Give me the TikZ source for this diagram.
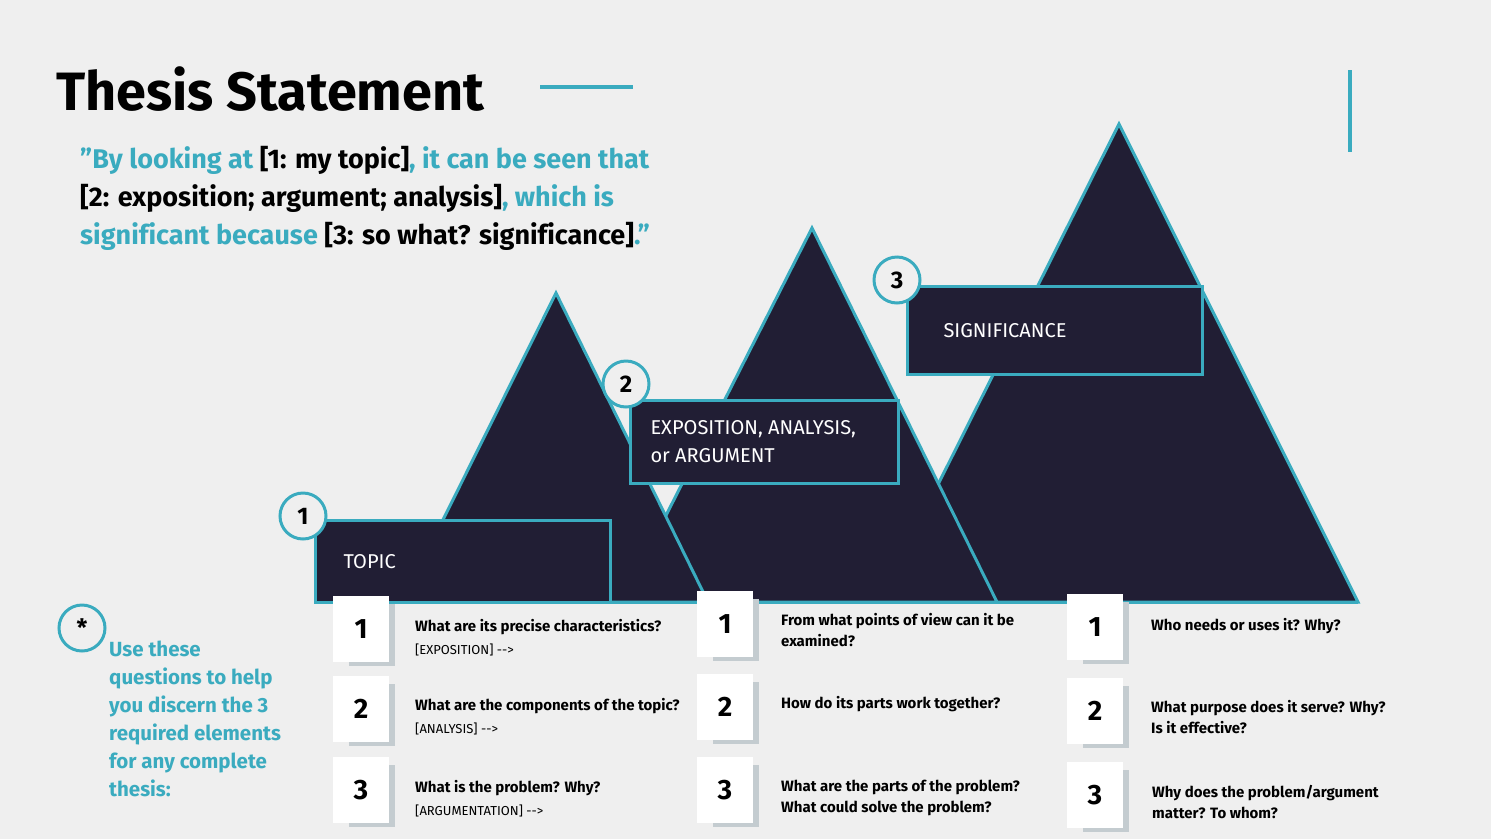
\documentclass[tikz,border=0pt]{standalone}
\usepackage{fontspec}
\setmainfont{Fira Sans}[Ligatures=NoCommon]
\definecolor{bg}{HTML}{EFEFEF}
\definecolor{navy}{HTML}{211E34}
\definecolor{teal}{HTML}{3AABBF}
\definecolor{shad}{HTML}{C4CCD0}
\begin{document}
\begin{tikzpicture}[x=1pt,y=-1pt,
  tri/.style={fill=navy,draw=teal,line width=3pt,line join=miter},
  lbox/.style={fill=navy,draw=teal,line width=3pt},
  circ/.style={circle,fill=bg,draw=teal,line width=3pt,minimum size=46pt,inner sep=0,font=\bfseries\fontsize{24}{24}\selectfont},
  numbox/.style={fill=white,minimum width=56pt,minimum height=66pt,inner sep=0,font=\bfseries\fontsize{28}{28}\selectfont},
  q/.style={anchor=north west,align=left,inner sep=0,font=\bfseries\fontsize{15}{21}\selectfont},
  tag/.style={anchor=north west,inner sep=0,font=\fontsize{13}{14}\selectfont}]
\fill[bg] (0,0) rectangle (1491,839);
\useasboundingbox (0,0) rectangle (1491,839);
% title
\node[anchor=base west,inner sep=0,font=\bfseries\fontsize{54}{54}\selectfont] (title) at (56,110) {Thesis Statement};
\draw[teal,line width=4pt] (540,87) coordinate (tl1) -- (633,87) coordinate (tl2);
\draw[teal,line width=4pt] (1350,70) coordinate (v1) -- (1350,152) coordinate (v2);
% quote
\node[anchor=north west,inner sep=0,align=left,font=\bfseries\fontsize{27}{38}\selectfont] (quote) at (80,146)
 {\textcolor{teal}{\char"22 By looking at }[1: my topic]\textcolor{teal}{, it can be seen that}\\
  {}[2: exposition; argument; analysis]\textcolor{teal}{, which is}\\
  \textcolor{teal}{significant because }[3: so what? significance]\textcolor{teal}{.\char"22}};
% triangles
\draw[tri] (1119,124) -- (1358,602) -- (879,602) -- cycle;
\draw[tri] (812,228) -- (997,602) -- (622,602) -- cycle;
\draw[tri] (556,293) -- (708,602) -- (402,602) -- cycle;
\draw[teal,line width=3pt] (315,602) coordinate (b1) -- (1358,602) coordinate (b2);
% boxes
\draw[lbox] (315,520) rectangle (610,602);
\node[anchor=west,text=white,font=\fontsize{20}{20}\selectfont] (topic) at (340,562) {TOPIC};
\draw[lbox] (630,400) rectangle (898,483);
\node[anchor=west,align=left,text=white,font=\fontsize{20}{28}\selectfont] (expo) at (647,442) {EXPOSITION, ANALYSIS,\\or ARGUMENT};
\draw[lbox] (907,286) rectangle (1202,374);
\node[anchor=west,text=white,font=\fontsize{20}{20}\selectfont] (sig) at (940,331) {SIGNIFICANCE};
\node[circ] (c1) at (303,516) {1};
\node[circ] (c2) at (626,384) {2};
\node[circ] (c3) at (897,280) {3};
\node[circ] (cs) at (82,628) {*};
% left text
\node[anchor=north west,inner sep=0,align=left,text=teal,font=\bfseries\fontsize{20.5}{28}\selectfont] (use) at (109,641)
 {Use these\\questions to help\\you discern the 3\\required elements\\for any complete\\thesis:};
% number boxes
\foreach \x/\y/\n [count=\i] in {361/629/1,361/709/2,361/790/3,725/624/1,725/707/2,725/790/3,1095/627/1,1095/711/2,1095/795/3}{
  \fill[shad] (\x-12,\y-25) rectangle (\x+34,\y+37);
  \node[numbox] (n\i) at (\x,\y) {\n};
}
% questions
\node[q] (q1) at (415,619) {What are its precise characteristics?};
\node[tag] (t1) at (415,644) {[EXPOSITION] -{}->};
\node[q] (q2) at (415,698) {What are the components of the topic?};
\node[tag] (t2) at (415,723) {[ANALYSIS] -{}->};
\node[q] (q3) at (415,780) {What is the problem? Why?};
\node[tag] (t3) at (415,805) {[ARGUMENTATION] -{}->};
\node[q] (q4) at (781,613) {From what points of view can it be\\examined?};
\node[q] (q5) at (781,696) {How do its parts work together?};
\node[q] (q6) at (781,780) {What are the parts of the problem?\\What could solve the problem?};
\node[q] (q7) at (1151,618) {Who needs or uses it? Why?};
\node[q] (q8) at (1151,700) {What purpose does it serve? Why?\\Is it effective?};
\node[q] (q9) at (1152,785) {Why does the problem/argument\\matter? To whom?};
\end{tikzpicture}
\end{document}
